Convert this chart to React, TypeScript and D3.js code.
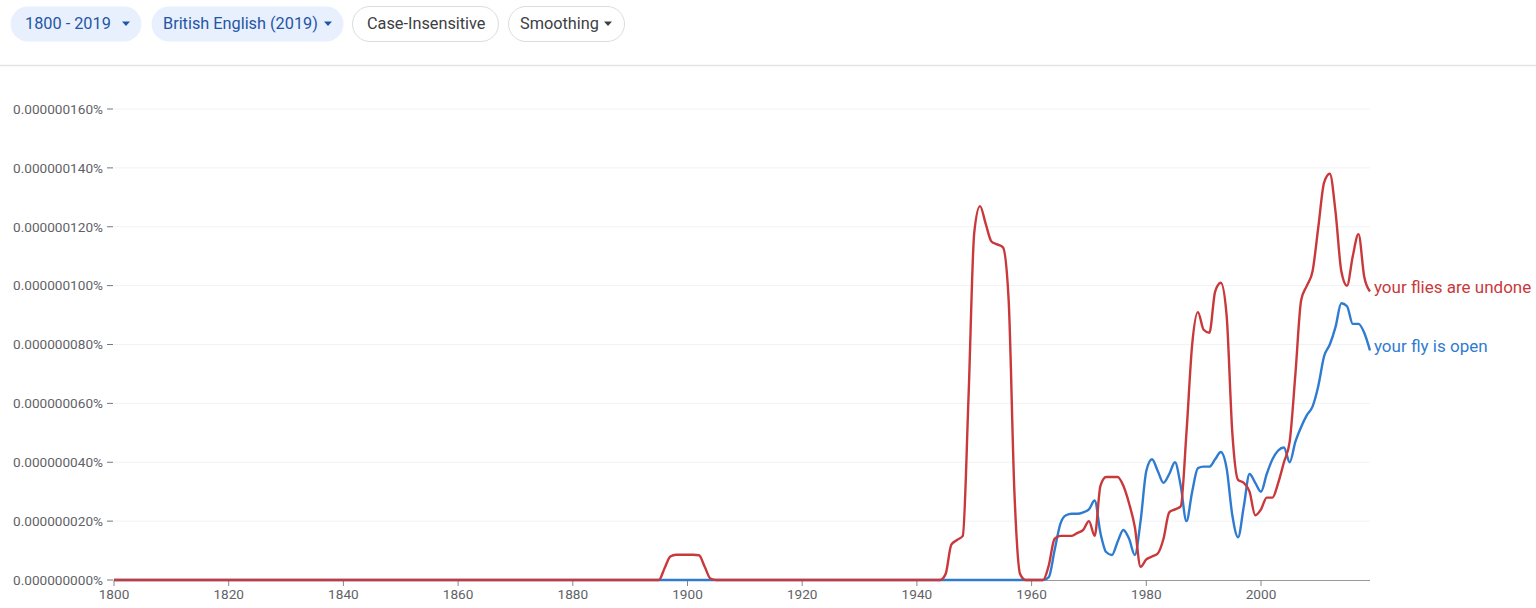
import React from "react";
import * as d3 from "d3";

// ---- data (values in percent) ----
const startYear = 1800;
const endYear = 2019;
const seriesNames = ["your flies are undone", "your fly is open"];
const seriesColors = ["#c9393b", "#2f7bd1"];

// non-zero (and anchor) yearly values, in units of 1e-9 %
const redPoints: [number, number][] = [
  [1895, 0], [1896, 4], [1897, 8], [1898, 8.6], [1899, 8.6], [1900, 8.6], [1901, 8.6], [1902, 8.4], [1903, 4.5], [1904, 0.5], [1905, 0],
  [1944, 0], [1945, 2], [1946, 12], [1947, 13.6], [1948, 15], [1949, 62], [1950, 118], [1951, 127], [1952, 121], [1953, 115],
  [1954, 114], [1955, 113], [1956, 95], [1957, 30], [1958, 2], [1959, 0],
  [1962, 0], [1963, 5], [1964, 14], [1965, 15], [1966, 15], [1967, 15], [1968, 16], [1969, 17], [1970, 20], [1971, 15],
  [1972, 32], [1973, 35], [1974, 35], [1975, 35], [1976, 32], [1977, 26], [1978, 18], [1979, 4.5], [1980, 7], [1981, 8],
  [1982, 9], [1983, 14], [1984, 23], [1985, 24], [1986, 25], [1987, 50], [1988, 80], [1989, 91], [1990, 85], [1991, 84],
  [1992, 98], [1993, 101], [1994, 90], [1995, 50], [1996, 34], [1997, 33], [1998, 30], [1999, 22], [2000, 24], [2001, 28],
  [2002, 28], [2003, 33], [2004, 40], [2005, 47], [2006, 70], [2007, 95], [2008, 100], [2009, 105], [2010, 120], [2011, 135],
  [2012, 138], [2013, 125], [2014, 105], [2015, 100], [2016, 110], [2017, 117.5], [2018, 103], [2019, 98],
];
const bluePoints: [number, number][] = [
  [1962, 0], [1963, 1], [1964, 10], [1965, 19], [1966, 22], [1967, 22.5], [1968, 22.5], [1969, 23], [1970, 24], [1971, 27],
  [1972, 16], [1973, 9.5], [1974, 8.5], [1975, 13], [1976, 17], [1977, 14], [1978, 8.5], [1979, 20], [1980, 37], [1981, 41],
  [1982, 37], [1983, 33], [1984, 36], [1985, 40], [1986, 32], [1987, 20], [1988, 30], [1989, 38], [1990, 38.5], [1991, 38.5],
  [1992, 41], [1993, 43.5], [1994, 38], [1995, 22], [1996, 14.5], [1997, 25], [1998, 36], [1999, 33], [2000, 30], [2001, 36],
  [2002, 41], [2003, 44], [2004, 45], [2005, 40], [2006, 47], [2007, 52], [2008, 56], [2009, 59], [2010, 66], [2011, 76],
  [2012, 80], [2013, 86], [2014, 94], [2015, 93], [2016, 87], [2017, 87], [2018, 84], [2019, 78],
];
const yTicks = [0, 20, 40, 60, 80, 100, 120, 140, 160];
const xTicks = [1800, 1820, 1840, 1860, 1880, 1900, 1920, 1940, 1960, 1980, 2000];
const buttons = [
  { label: "1800 - 2019", active: true, caret: true },
  { label: "British English (2019)", active: true, caret: true },
  { label: "Case-Insensitive", active: false, caret: false },
  { label: "Smoothing", active: false, caret: true },
];

function fullSeries(points: [number, number][]) {
  const m = new Map(points);
  const out: { year: number; v: number }[] = [];
  for (let y = startYear; y <= endYear; y++) out.push({ year: y, v: m.get(y) ?? 0 });
  return out;
}

const fmt = (v: number) => (v * 1e-9).toFixed(9) + "%";

export default function App() {
  const W = 1536, H = 608;
  const x = d3.scaleLinear().domain([1800, 2000]).range([114, 1261]);
  const y = d3.scaleLinear().domain([0, 160]).range([580, 109]);
  const line = d3
    .line<{ year: number; v: number }>()
    .x((d) => x(d.year))
    .y((d) => y(d.v))
    .curve(d3.curveMonotoneX);
  const data = [fullSeries(redPoints), fullSeries(bluePoints)];
  const font = "Roboto, 'Noto Sans', Arial, sans-serif";

  // button layout
  const btnX = [10, 151, 352, 508];
  const btnW = [131, 192, 146, 116];
  const txtX = [25, 163, 367, 520];
  const caretX = [122, 324, 0, 604];

  return (
    <svg width={W} height={H} style={{ position: "absolute", left: 0, top: 0, background: "#fff" }} fontFamily={font}>
      {buttons.map((b, i) => (
        <g key={b.label}>
          <rect
            x={btnX[i] + 0.5}
            y={6.5}
            width={btnW[i]}
            height={35}
            rx={17.5}
            fill={b.active ? "#e8f0fe" : "#fff"}
            stroke={b.active ? "none" : "#dadce0"}
          />
          <text x={txtX[i]} y={29} fontSize={16.3} fill={b.active ? "#1f56a5" : "#3c4043"}>
            {b.label}
          </text>
          {b.caret && (
            <path d={`M${caretX[i]},21.5 l8,0 l-4,4.5 z`} fill={b.active ? "#1f56a5" : "#3c4043"} />
          )}
        </g>
      ))}
      <line x1={0} x2={W} y1={65.5} y2={65.5} stroke="#e3e3e3" strokeWidth={1.5} />

      {yTicks.map((t) => (
        <g key={t}>
          {t > 0 && <line x1={114} x2={1370} y1={y(t)} y2={y(t)} stroke="#f2f2f2" />}
          <line x1={107} x2={113} y1={y(t)} y2={y(t)} stroke="#777" />
          <text x={103} y={y(t)} dy="0.35em" textAnchor="end" fontSize={13.6} fill="#5f6368">
            {fmt(t)}
          </text>
        </g>
      ))}
      <line x1={114} x2={1370} y1={580.5} y2={580.5} stroke="#999" />
      {xTicks.map((t) => (
        <g key={t}>
          <line x1={x(t)} x2={x(t)} y1={580} y2={586} stroke="#888" />
          <text x={x(t)} y={599} textAnchor="middle" fontSize={13.6} fill="#5f6368">
            {t}
          </text>
        </g>
      ))}

      {[1, 0].map((i) => (
        <path key={i} d={line(data[i]) || ""} fill="none" stroke={seriesColors[i]} strokeWidth={2.4} />
      ))}
      {[0, 1].map((i) => {
        const last = data[i][data[i].length - 1];
        return (
          <text key={i} x={x(last.year) + 4} y={y(last.v) - 4} dy="0.35em" fontSize={17} fill={seriesColors[i]}>
            {seriesNames[i]}
          </text>
        );
      })}
    </svg>
  );
}
